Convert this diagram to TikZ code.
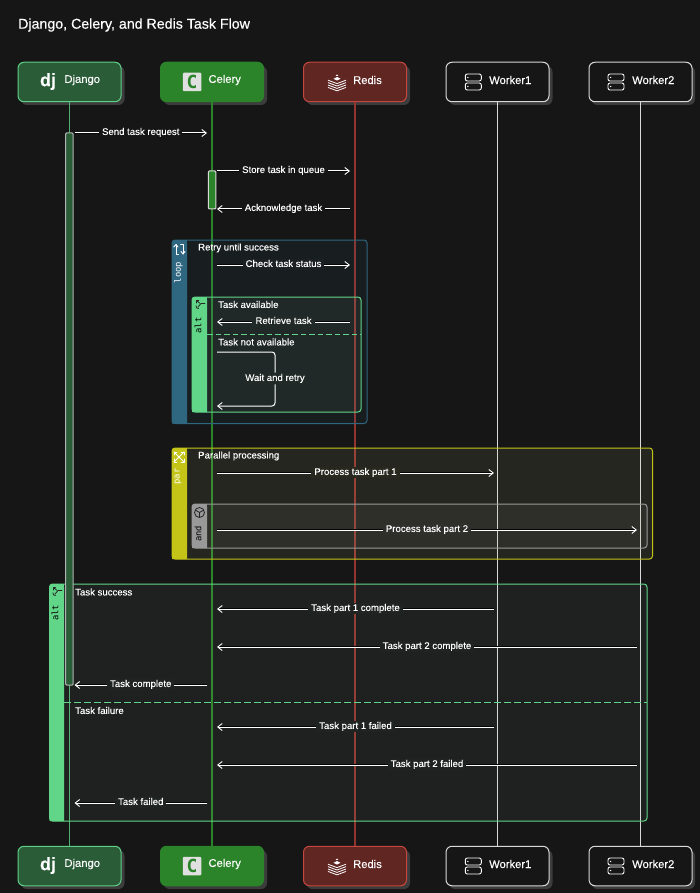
\documentclass[tikz,border=0pt]{standalone}
\usepackage{fontspec}
\setmainfont[FakeBold=0.1]{Liberation Sans}
\setmonofont{DejaVu Sans Mono}
\newfontfamily\titlefont[FakeBold=0.35]{Liberation Sans}
\usetikzlibrary{arrows.meta}
\definecolor{bgc}{HTML}{161616}
\definecolor{djf}{HTML}{2A5C38}
\definecolor{djl}{HTML}{5FCF85}
\definecolor{cef}{HTML}{2B8429}
\definecolor{red1}{HTML}{5F2622}
\definecolor{red2}{HTML}{C4473F}
\definecolor{shad}{HTML}{3C3C3C}
\definecolor{loopc}{HTML}{2F6680}
\definecolor{altc}{HTML}{62D688}
\definecolor{altt}{HTML}{A0DCB8}
\definecolor{parc}{HTML}{C4C418}
\definecolor{part}{HTML}{C8C890}
\definecolor{andc}{HTML}{999999}
\definecolor{tloop}{HTML}{1B2024}
\definecolor{talt}{HTML}{222A28}
\definecolor{tpar}{HTML}{28281F}
\definecolor{tand}{HTML}{2F2F2B}
\definecolor{touter}{HTML}{1F2422}
\tikzset{
  x=1pt,y=-1pt,
  actor/.style={draw=#1,line width=1pt,rounded corners=6pt,minimum width=103pt,minimum height=39.5pt,anchor=center,inner sep=0pt},
  actortext/.style={text=white,font=\fontsize{11.2}{12}\selectfont,anchor=west,inner sep=0pt},
  life/.style={line width=1pt},
  msg/.style={white,line width=1pt,-{Straight Barb[length=4.5pt,width=7pt,line width=.9pt]},preaction={draw=black!75!bgc,line width=2.6pt,-}},
  msgplain/.style={white,line width=1pt,rounded corners=3pt,-{Straight Barb[length=4.5pt,width=7pt,line width=.9pt]}},
  lab/.style={fill=#1,text=white,font=\fontsize{9.6}{10}\selectfont,inner xsep=3pt,inner ysep=1.5pt,text height=6.9pt,text depth=2pt,yshift=.5pt},
  frcap/.style={text=white,font=\fontsize{9.6}{10}\selectfont,anchor=west,inner sep=0pt},
  tabtext/.style={rotate=90,font=\ttfamily\fontsize{8.8}{10}\selectfont,inner sep=0pt},
  activation/.style={draw=#1,line width=1pt,rounded corners=1pt},
  icon/.style={line width=.9pt,line cap=round,line join=round},
}
% frame: name, tint colour, opacity, left, top, right, bottom, tab right, border colour
\newcommand{\sdframe}[9]{%
  \path[fill=#2,fill opacity=#3,rounded corners=3pt] (#4,#5) rectangle (#6,#7);
  \path[fill=#9,rounded corners=3pt] (#4,#5) -- (#8,#5) [sharp corners] -- (#8,#7) -- (#4,#7) [rounded corners=3pt] -- cycle;
  \fill[#9] (#8-4,#5) rectangle (#8,#7);
  \node[draw=#9,line width=1pt,rounded corners=3pt,inner sep=0pt,outer sep=0pt,anchor=north west,minimum width=#6pt-#4pt,minimum height=#7pt-#5pt] (#1) at (#4,#5) {};
}
% message: name, from x, to x, y, label, label fill
\newcommand{\sdmsg}[6]{%
  \coordinate (#1a) at (#2,#4);
  \coordinate (#1b) at (#3,#4);
  \draw[msg] (#1a) -- node[lab=#6] (#1l) {#5} (#1b);
}
\newcommand{\serverico}[2]{%
  \begin{scope}[shift={(#1,#2)}]
    \draw[white,icon,rounded corners=2pt] (-8,-8) rectangle (8,-1);
    \draw[white,icon,rounded corners=2pt] (-8,1) rectangle (8,8);
    \fill[white] (-5.4,-4.5) circle (.7);
    \fill[white] (-5.4,4.5) circle (.7);
  \end{scope}
}
\newcommand{\redisico}[2]{%
  \begin{scope}[shift={(#1,#2)}]
    \foreach \dy in {0,2.4,4.8,7.2}{
      \draw[white,line width=.8pt,line join=round] (-9,\dy-1.8) -- (0,\dy+1.6) -- (9,\dy-1.8);
    }
    \fill[white] (-3.6,-3.2) -- (0,-5) -- (3.6,-3.2) -- (0,-1.5) -- cycle;
    \fill[white] (-1.4,-6.6) -- (0,-7.4) -- (1.4,-6.6) -- (0,-5.9) -- cycle;
  \end{scope}
}
\newcommand{\celeryico}[2]{%
  \node[fill=white!88!black,rounded corners=1pt,minimum size=18.5pt,inner sep=0pt,text=cef,font=\ttfamily\bfseries\fontsize{18}{18}\selectfont] at (#1,#2) {C};
}
\newcommand{\altico}[2]{%
  \begin{scope}[shift={(#1,#2)}]
    \draw[black!85,line width=.8pt,line cap=round,line join=round] (5.5,-1.5) -- (1.5,-1.5) -- (-1.5,2);
    \draw[black!85,line width=.8pt,line cap=round,line join=round] (-3.5,.8) -- (-3,3) -- (-.8,3.4);
    \draw[black!85,line width=.8pt,line cap=round,line join=round] (-2.5,-4) -- (.3,-1.8);
    \draw[black!85,line width=.8pt,line cap=round,line join=round] (-2.9,-2) -- (-3,-4.4) -- (-.8,-4.4);
  \end{scope}
}
\begin{document}
\begin{tikzpicture}
\useasboundingbox[fill=bgc] (0,0) rectangle (700,893);
\node[text=white,font=\titlefont\fontsize{14.2}{16}\selectfont,anchor=west,inner sep=0pt] (title) at (18,25) {Django, Celery, and Redis Task Flow};

% shadows
\foreach \xx in {18,160.5,303.5,446,588.5}{
  \fill[shad,rounded corners=6pt] (\xx+3,66) rectangle (\xx+106.5,105);
  \fill[shad,rounded corners=6pt] (\xx+3,850) rectangle (\xx+106.5,889);
}
% actors
\node[actor=djl,fill=djf] (dj) at (69.5,82) {};
\node[actor=cef,fill=cef] (ce) at (212,82) {};
\node[actor=red2,fill=red1] (re) at (355,82) {};
\node[actor=white!85!black,fill=bgc] (w1) at (497.5,82) {};
\node[actor=white!85!black,fill=bgc] (w2) at (640.5,82) {};
\node[actor=djl,fill=djf] (djb) at (69.5,866) {};
\node[actor=cef,fill=cef] (ceb) at (212,866) {};
\node[actor=red2,fill=red1] (reb) at (355,866) {};
\node[actor=white!85!black,fill=bgc] (w1b) at (497.5,866) {};
\node[actor=white!85!black,fill=bgc] (w2b) at (640.5,866) {};
% lifelines
\draw[life,draw=djl!85!black] (dj) -- (djb);
\draw[life,line width=1.1pt,draw=cef] (ce) -- (ceb);
\draw[life,line width=1.2pt,draw=red2!75!black] (re) -- (reb);
\draw[life,line width=1.2pt,draw=white!85!black] (w1) -- (w1b);
\draw[life,line width=1.2pt,draw=white!85!black] (w2) -- (w2b);
% actor labels and icons
\foreach \yy/\sfx in {80/t,864/b}{
  \node[text=white,font=\bfseries\fontsize{18}{18}\selectfont,inner sep=0pt] (djicon\sfx) at (48,\yy+1.5) {dj};
  \node[actortext] (djtxt\sfx) at (64.3,\yy) {Django};
  \celeryico{192}{\yy+2}
  \node[actortext] (cetxt\sfx) at (208.3,\yy) {Celery};
  \redisico{337}{\yy+2}
  \node[actortext] (retxt\sfx) at (353,\yy) {Redis};
  \serverico{473.3}{\yy+2}
  \node[actortext] (w1txt\sfx) at (489,\yy) {Worker1};
  \serverico{616}{\yy+2}
  \node[actortext] (w2txt\sfx) at (632,\yy) {Worker2};
}

% frames
\sdframe{loopf}{loopc}{0.1}{172}{240}{367}{423.5}{187}{loopc}
\sdframe{altin}{altt}{0.06}{192}{297}{361}{412}{207}{altc}
\sdframe{parf}{part}{0.09}{172}{448}{652.5}{559}{187}{parc}
\sdframe{andf}{andc}{0.08}{192}{504}{647}{548}{207}{andc}
\sdframe{altout}{altt}{0.06}{49.5}{584}{647}{821}{64}{altc}
\coordinate (d1a) at (207,334);
\coordinate (d1b) at (361,334);
\coordinate (d2a) at (64,702);
\coordinate (d2b) at (647,702);
\draw[altc,line width=1pt,dash pattern=on 5.5pt off 3pt] (d1a) -- (d1b);
\draw[altc,line width=1pt,dash pattern=on 6.5pt off 3.5pt] (d2a) -- (d2b);

% tab labels
\node[tabtext,text=white!85] (tl1) at (178.5,272.5) {loop};
\node[tabtext,text=black] (tl2) at (198,325.5) {alt};
\node[tabtext,text=white!85] (tl3) at (178,476.5) {par};
\node[tabtext,text=black] (tl4) at (198,534) {and};
\node[tabtext,text=black] (tl5) at (55,613) {alt};

% tab icons
\begin{scope}[white!85,line width=.9pt,line cap=round,line join=round]
  \draw (176,245) -- (176,254.5) -- (178.5,254.5);
  \draw (173.8,247) -- (176,244.5) -- (178,247);
  \draw (180.5,244.5) -- (183,244.5) -- (183,254);
  \draw (181,251.5) -- (183,254) -- (185,251.5);
  \draw (174,452) -- (184,462) (184,452) -- (174,462);
  \draw (174,455) -- (174,452) -- (177,452) (181,452) -- (184,452) -- (184,455);
  \draw (174,459) -- (174,462) -- (177,462) (184,459) -- (184,462) -- (181,462);
\end{scope}
\altico{199.5}{305}
\altico{56.5}{592}
\begin{scope}[black!85,line width=.8pt,line join=round]
  \draw (199.5,512.5) circle (5pt);
  \draw (199.5,512.5) -- (199.5,517.5) (199.5,512.5) -- (195.2,510) (199.5,512.5) -- (203.8,510);
\end{scope}

% captions
\node[frcap] (c1) at (198,248) {Retry until success};
\node[frcap] (c2) at (218,304.5) {Task available};
\node[frcap] (c3) at (218,342) {Task not available};
\node[frcap] (c4) at (198,456) {Parallel processing};
\node[frcap] (c5) at (75,592) {Task success};
\node[frcap] (c6) at (75,710.5) {Task failure};

% activations
\node[activation=white!70!black,fill=djf,minimum width=7.5pt,minimum height=552pt,inner sep=0pt,outer sep=0pt] (ad) at (69.3,409) {};
\node[activation=white!85!black,fill=cef,minimum width=7.5pt,minimum height=38pt,inner sep=0pt,outer sep=0pt] (ac) at (212.2,190) {};

% messages
\sdmsg{m1}{74.5}{207}{133}{Send task request}{bgc}
\sdmsg{m2}{217}{350}{171}{Store task in queue}{bgc}
\sdmsg{m3}{350}{217}{209}{Acknowledge task}{bgc}
\sdmsg{m4}{217}{350}{265}{Check task status}{tloop}
\sdmsg{m5}{350}{217}{322}{Retrieve task}{talt}
\coordinate (s1) at (217,352);
\coordinate (s2) at (275,352);
\coordinate (s3) at (275,406);
\coordinate (s4) at (217,406);
\draw[msgplain] (s1) -- (s2) -- node[lab=talt] (m6l) {Wait and retry} (s3) -- (s4);
\sdmsg{m7}{217}{494}{473}{Process task part 1}{tpar}
\sdmsg{m8}{217}{637}{530}{Process task part 2}{tand}
\sdmsg{m9}{494}{217}{609}{Task part 1 complete}{touter}
\sdmsg{m10}{637}{217}{647}{Task part 2 complete}{touter}
\sdmsg{m11}{207}{74.5}{685}{Task complete}{touter}
\sdmsg{m12}{494}{217}{727}{Task part 1 failed}{touter}
\sdmsg{m13}{637}{217}{765}{Task part 2 failed}{touter}
\sdmsg{m14}{207}{74.5}{803}{Task failed}{touter}
\end{tikzpicture}
\end{document}
